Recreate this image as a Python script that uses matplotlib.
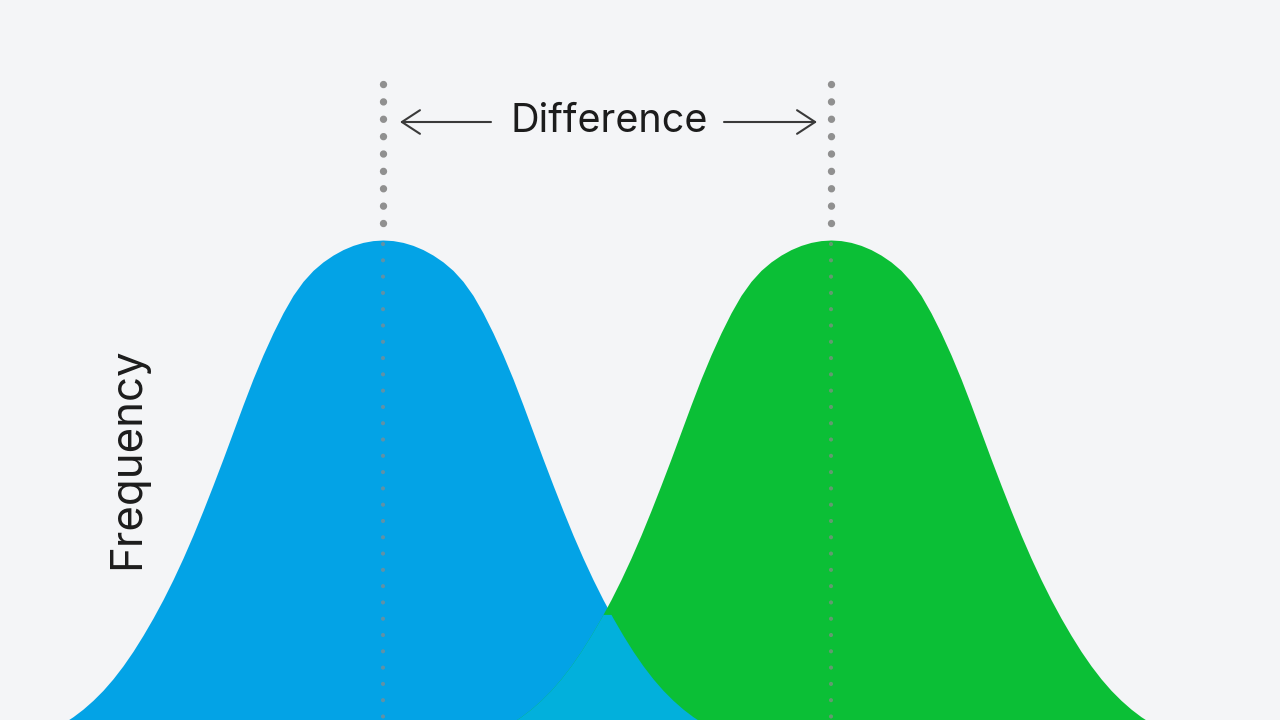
import numpy as np
import matplotlib
matplotlib.use("Agg")
import matplotlib.pyplot as plt

group_names = ["A", "B"]
group_means = [383, 831]
group_colors = ["#03a3e6", "#0bbf36"]
overlap_color = "#02b0dc"

# half profile of the bell: offset from the mean -> height
profile_offsets = [0, 10, 20, 30, 40, 50, 60, 70, 80, 90, 100, 110, 120, 130, 140, 150, 160,
                   170, 180, 190, 200, 210, 220, 230, 240, 250, 260, 270, 280, 290, 300, 310, 320]
profile_heights = [480, 479.4, 477.6, 474.6, 470.4, 464.9, 458.1, 449.6, 438.6, 424.6, 407.1,
                   387.1, 365.1, 341.1, 315.1, 288.1, 261.1, 234.9, 209.4, 184.9, 161.9, 140.4,
                   120.4, 101.9, 84.7, 68.7, 54.2, 41.2, 29.7, 19.7, 10.9, 3.3, -3.2]

label_text = "Difference"
axis_label = "Frequency"

bg = "#f4f5f7"

fig = plt.figure(figsize=(12.8, 7.2), dpi=100, facecolor=bg)
ax = fig.add_axes([0, 0, 1, 1])
ax.set_facecolor(bg)
ax.set_xlim(0, 1280)
ax.set_ylim(0, 720)
ax.axis("off")

offs = np.array(profile_offsets, dtype=float)
hts = np.array(profile_heights, dtype=float)
half_x = np.concatenate([-offs[::-1], offs[1:]])
half_y = np.concatenate([hts[::-1], hts[1:]])

curves = []
for m, c in zip(group_means, group_colors):
    xs = half_x + m
    ax.fill_between(xs, -10, half_y, color=c, linewidth=0, zorder=2)
    curves.append((xs, half_y))

# overlap region of the two bells
xa, ya = curves[0]
xb, yb = curves[1]
grid = np.union1d(xa, xb)
grid = grid[(grid >= xb.min()) & (grid <= xa.max())]
ya_g = np.interp(grid, xa, ya)
yb_g = np.interp(grid, xb, yb)
ax.fill_between(grid, -10, np.minimum(ya_g, yb_g), color=overlap_color,
                linewidth=0, zorder=3)

# dotted guide lines through each mean
peak = max(profile_heights)
for m in group_means:
    ax.plot([m, m], [636, peak + 4], color="#909090", linewidth=5.3,
            linestyle=(0, (0.01, 2.35)), dash_capstyle="round", zorder=4)
    ax.plot([m, m], [peak - 4, 0], color="#8a8a8a", linewidth=3.0, alpha=0.7,
            linestyle=(0, (0.01, 3.9)), dash_capstyle="round", zorder=4)

# difference label with arrows
mid = (group_means[0] + group_means[1]) / 2
ax.text(mid + 2, 598, label_text, ha="center", va="center", fontsize=28.5,
        family=["Inter", "DejaVu Sans"], color="#1c1c1c", zorder=5)
arrow_kw = dict(arrowstyle="->,head_length=1.3,head_width=0.85", color="#3a3a3a",
                lw=1.5, shrinkA=0, shrinkB=0)
ax.annotate("", xy=(group_means[0] + 17, 598), xytext=(mid - 116, 598),
            arrowprops=arrow_kw, zorder=5)
ax.annotate("", xy=(group_means[1] - 14, 598), xytext=(mid + 117, 598),
            arrowprops=arrow_kw, zorder=5)

ax.text(128, 262, axis_label, ha="center", va="center", rotation=90, fontsize=31.5,
        family=["Inter", "DejaVu Sans"], color="#1c1c1c", zorder=5)

fig.savefig("out.png", dpi=100, facecolor=bg)
